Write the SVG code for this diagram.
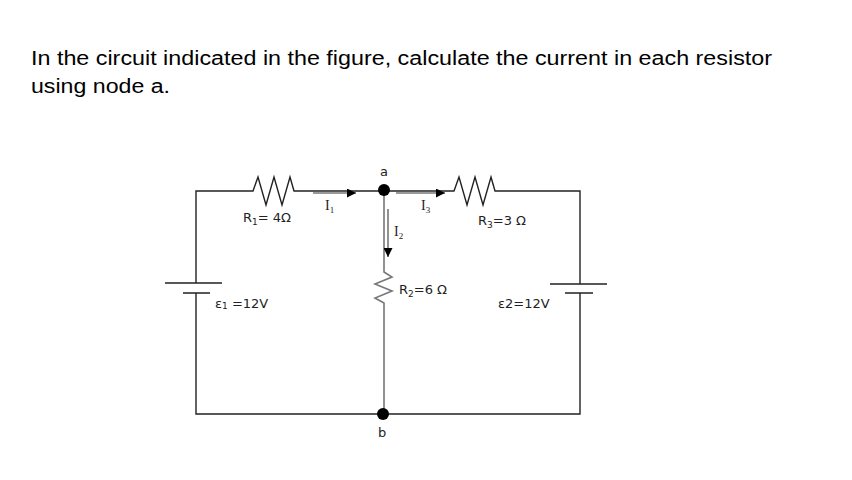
<svg xmlns="http://www.w3.org/2000/svg" width="852" height="480" viewBox="0 0 852 480">
<style>
.w{fill:none;stroke:#222;stroke-width:1.4}
.g{fill:none;stroke:#777;stroke-width:1.6}
.t{font-family:"DejaVu Sans",sans-serif;font-size:13px;fill:#222}
.i{font-family:"Liberation Serif",serif;font-size:14px;fill:#222}
.q{font-family:"Liberation Sans",Arial,sans-serif;font-size:20px;fill:#000}
</style>
<defs><marker id="ah" viewBox="0 0 10 10" refX="10" refY="5" markerWidth="9" markerHeight="9" markerUnits="userSpaceOnUse" orient="auto"><path d="M0,0L10,5L0,10z" fill="#000"/></marker></defs>
<text class="q" x="31" y="65" textLength="741" lengthAdjust="spacingAndGlyphs">In the circuit indicated in the figure, calculate the current in each resistor</text>
<text class="q" x="31" y="93" textLength="139" lengthAdjust="spacingAndGlyphs">using node a.</text>
<g id="connectors">
<path class="w" d="M196,283V191H253l5,-14l8,28l8,-28l8,28l8,-28l4,14H384"/>
<path class="w" d="M384,191H454l5,-14l8,28l8,-28l8,28l8,-28l4,14H580V284"/>
<path class="g" d="M384,191V272l8,5l-17,7l17,7l-17,7l9,5V414"/>
<path class="w" d="M196,293V414H580V293"/>
<path class="w" d="M165,283H222M183,293H210M550,284H607M565,293H593"/>
<line class="g" x1="313" y1="193" x2="356" y2="193" marker-end="url(#ah)"/>
<line class="g" x1="396" y1="193" x2="445" y2="193" marker-end="url(#ah)"/>
<line class="g" x1="388" y1="209" x2="388" y2="257" marker-end="url(#ah)"/>
</g>
<g id="a"><circle cx="384" cy="190" r="6"/><text class="t" x="380" y="176" font-size="11">a</text></g>
<g id="b"><circle cx="383" cy="414" r="6"/><text class="t" x="378" y="437">b</text></g>
<g id="R1"><text class="t" x="243" y="222">R<tspan font-size="9" dy="3">1</tspan><tspan dy="-3">= 4Ω</tspan></text></g>
<g id="R3"><text class="t" x="478" y="225">R<tspan font-size="9" dy="3">3</tspan><tspan dy="-3">=3 Ω</tspan></text></g>
<g id="R2"><text class="t" x="399" y="294">R<tspan font-size="9" dy="3">2</tspan><tspan dy="-3">=6 Ω</tspan></text></g>
<g id="E1"><text class="t" x="215" y="308">ε<tspan font-size="9" dy="1">1</tspan><tspan dy="-1"> =12V</tspan></text></g>
<g id="E2"><text class="t" x="498" y="308">ε2=12V</text></g>
<g id="I"><text class="i" x="325" y="210">I<tspan font-size="9" dy="3">1</tspan></text>
<text class="i" x="421" y="210">I<tspan font-size="9" dy="3">3</tspan></text>
<text class="i" x="394" y="236">I<tspan font-size="9" dy="3">2</tspan></text></g>
</svg>
